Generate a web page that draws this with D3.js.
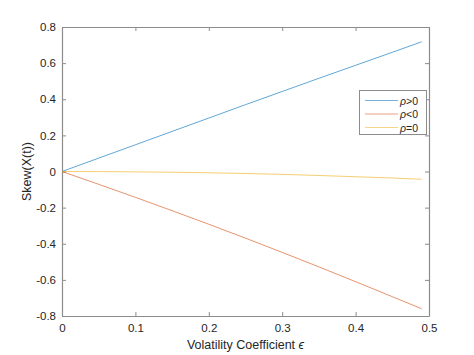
<!DOCTYPE html>
<html><head><meta charset="utf-8">
<script src="https://cdn.jsdelivr.net/npm/d3@7"></script>
<style>body{margin:0;background:#fff}svg{display:block}text{font-family:"Liberation Sans",Arial,sans-serif;fill:#262626}</style>
</head><body><svg id="c" width="474" height="355"></svg>
<script>
const epsValues = [0, 0.05, 0.10, 0.15, 0.20, 0.25, 0.30, 0.35, 0.40, 0.45, 0.49];
const skewPos  = [0, 0.074, 0.148, 0.222, 0.296, 0.370, 0.443, 0.516, 0.588, 0.660, 0.718];
const skewNeg  = [0, -0.071, -0.143, -0.217, -0.292, -0.369, -0.448, -0.528, -0.610, -0.693, -0.760];
const skewZero = [0, -0.0005, -0.002, -0.004, -0.007, -0.011, -0.016, -0.022, -0.029, -0.036, -0.043];
const seriesNames = ["ρ>0", "ρ<0", "ρ=0"];
const xTicks = [0, 0.1, 0.2, 0.3, 0.4, 0.5];
const yTicks = [-0.8, -0.6, -0.4, -0.2, 0, 0.2, 0.4, 0.6, 0.8];

const colors = ["#0072BD", "#D95319", "#EDB120"];
const svg = d3.select("#c");
const L = 62, R = 429, T = 27, B = 316;
const x = d3.scaleLinear().domain([0, 0.5]).range([L, R]);
const y = d3.scaleLinear().domain([-0.8, 0.8]).range([B, T]);
const axCol = "#8c8c8c";
const txtCol = "#262626";
const fmt = d => d === 0 ? "0" : String(+d.toFixed(1));

const gx = svg.append("g").attr("transform", `translate(0,${B})`)
  .call(d3.axisBottom(x).tickValues(xTicks).tickFormat(fmt).tickSizeInner(-4).tickSizeOuter(0).tickPadding(8));
gx.selectAll("text").attr("font-size", 11.5).style("font-family", "Liberation Sans, Arial, sans-serif").attr("fill", txtCol);
svg.append("g").attr("transform", `translate(0,${T})`)
  .call(d3.axisTop(x).tickValues(xTicks).tickFormat("").tickSizeInner(-4).tickSizeOuter(0));
const gy = svg.append("g").attr("transform", `translate(${L},0)`)
  .call(d3.axisLeft(y).tickValues(yTicks).tickFormat(fmt).tickSizeInner(-4).tickSizeOuter(0).tickPadding(6));
gy.selectAll("text").attr("font-size", 11.5).style("font-family", "Liberation Sans, Arial, sans-serif").attr("fill", txtCol);
svg.append("g").attr("transform", `translate(${R},0)`)
  .call(d3.axisRight(y).tickValues(yTicks).tickFormat("").tickSizeInner(-4).tickSizeOuter(0));
svg.selectAll(".domain").attr("stroke", axCol).attr("stroke-width", 1.2);
svg.selectAll(".tick line").attr("stroke", axCol).attr("stroke-width", 1);

const line = d3.line().x((d, i) => x(epsValues[i])).y(d => y(d));
[skewPos, skewNeg, skewZero].forEach((s, i) => {
  svg.append("path").datum(s).attr("d", line).attr("fill", "none")
    .attr("stroke", colors[i]).attr("stroke-width", 0.9).attr("stroke-opacity", 0.7);
});

svg.append("text").attr("x", (L + R) / 2).attr("y", 349).attr("text-anchor", "middle").attr("font-size", 12.5)
  .text("Volatility Coefficient ").append("tspan").attr("font-style", "italic").text("ϵ");
svg.append("text").attr("transform", `translate(31,${(T + B) / 2}) rotate(-90)`).attr("text-anchor", "middle")
  .attr("font-size", 12.5).text("Skew(X(t))");

const lg = svg.append("g");
lg.append("rect").attr("x", 359.5).attr("y", 90.5).attr("width", 67).attr("height", 44)
  .attr("fill", "#fff").attr("stroke", axCol).attr("stroke-width", 1);
seriesNames.forEach((n, i) => {
  const yy = 100.5 + i * 13.5;
  lg.append("line").attr("x1", 365).attr("x2", 398).attr("y1", yy).attr("y2", yy)
    .attr("stroke", colors[i]).attr("stroke-width", 0.9).attr("stroke-opacity", 0.6);
  const t = lg.append("text").attr("x", 400).attr("y", yy + 4).attr("font-size", 10.5);
  t.append("tspan").attr("font-style", "italic").text(n[0]);
  t.append("tspan").text(n.slice(1));
});
</script></body></html>
